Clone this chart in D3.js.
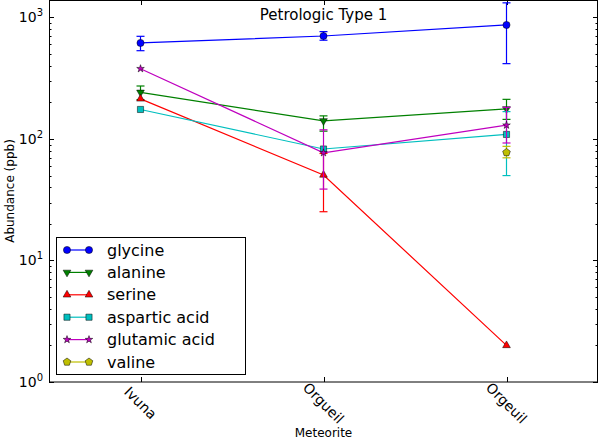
<!DOCTYPE html>
<html>
<head>
<meta charset="utf-8">
<script src="https://cdn.jsdelivr.net/npm/d3@7"></script>
<style>
  body { margin: 0; background: #fff; }
  text { font-family: "DejaVu Sans", sans-serif; }
</style>
</head>
<body>
<div id="chart"></div>
<script>
const meteorites = ['Ivuna', 'Orgueil', 'Orgeuil'];
const seriesNames = ['glycine', 'alanine', 'serine', 'aspartic acid', 'glutamic acid', 'valine'];
const glycine = [617, 704, 868];
const glycineLo = [533, 650, 417];
const glycineHi = [700, 765, 1320];
const alanine = [242, 141, 177];
const alanineLo = [211, 116, 145];
const alanineHi = [273, 155, 212];
const serine = [214, 50.6, 2];
const serineLo = [null, 25.2, null];
const serineHi = [null, 76, null];
const aspartic = [175, 82.7, 109];
const asparticLo = [null, null, 50];
const asparticHi = [null, null, 168];
const glutamic = [379, 77, 130];
const glutamicLo = [null, 38.7, 92.7];
const glutamicHi = [null, 119, 182];
const valine = [null, null, 77.5];
const valineLo = [null, null, 70];
const valineHi = [null, null, 87];
const yTickExps = [0, 1, 2, 3];

const colors = ['#0000ff', '#008000', '#ff0000', '#00bfbf', '#bf00bf', '#bfbf00'];
const markers = ['circle', 'tridown', 'triup', 'square', 'star', 'pentagon'];
const values = [glycine, alanine, serine, aspartic, glutamic, valine];
const lows = [glycineLo, alanineLo, serineLo, asparticLo, glutamicLo, valineLo];
const highs = [glycineHi, alanineHi, serineHi, asparticHi, glutamicHi, valineHi];

const width = 600, height = 441;
const margin = { top: 0, right: 2, bottom: 59, left: 49 };

const svg = d3.select('#chart').append('svg')
  .attr('width', width).attr('height', height);

const x = d3.scaleLinear().domain([-0.5, 2.5]).range([margin.left, width - margin.right]);
const y = d3.scaleLog().domain([1, 1393]).range([height - margin.bottom, margin.top]);

const x0 = margin.left, x1 = width - margin.right;
const y0 = height - margin.bottom, y1 = margin.top;

// ticks
const tg = svg.append('g').attr('stroke', '#000').attr('stroke-width', 1);
meteorites.forEach((m, i) => {
  const xp = Math.round(x(i)) + 0.5;
  tg.append('line').attr('x1', xp).attr('x2', xp).attr('y1', y0).attr('y2', y0 - 5);
  tg.append('line').attr('x1', xp).attr('x2', xp).attr('y1', y1).attr('y2', y1 + 5);
});
for (let e = 0; e <= 3; e++) {
  for (let k = 1; k <= 9; k++) {
    const v = k * Math.pow(10, e);
    if (v > 1393) continue;
    const yp = Math.round(y(v)) + 0.5;
    const len = k === 1 ? 5 : 2.5;
    tg.append('line').attr('x1', x0).attr('x2', x0 + len).attr('y1', yp).attr('y2', yp);
    tg.append('line').attr('x1', x1).attr('x2', x1 - len).attr('y1', yp).attr('y2', yp);
  }
}

// y tick labels
yTickExps.forEach(e => {
  const t = svg.append('text')
    .attr('x', x0 - 6).attr('y', y(Math.pow(10, e)) + 5)
    .attr('text-anchor', 'end').attr('font-size', 14);
  t.append('tspan').text('10');
  t.append('tspan').attr('dy', -6).attr('font-size', 10).text(e);
});

// x tick labels
meteorites.forEach((m, i) => {
  svg.append('text')
    .attr('transform', `translate(${x(i)},${y0 + 21}) rotate(45)`)
    .attr('text-anchor', 'middle').attr('dy', '0.35em')
    .attr('font-size', 14).text(m);
});

// series
values.forEach((vals, s) => {
  const g = svg.append('g');
  const c = colors[s];
  const pts = vals.map((v, i) => ({ i, v })).filter(d => d.v != null);
  g.append('path')
    .attr('d', d3.line().x(d => x(d.i)).y(d => y(d.v))(pts))
    .attr('fill', 'none').attr('stroke', c).attr('stroke-width', 1.2);
  vals.forEach((v, i) => {
    const lo = lows[s][i], hi = highs[s][i];
    if (lo == null || hi == null) return;
    const xp = x(i);
    g.append('line').attr('x1', xp).attr('x2', xp).attr('y1', y(lo)).attr('y2', y(hi))
      .attr('stroke', c).attr('stroke-width', 1.2);
    [lo, hi].forEach(b => {
      g.append('line').attr('x1', xp - 4).attr('x2', xp + 4).attr('y1', y(b)).attr('y2', y(b))
        .attr('stroke', c).attr('stroke-width', 1.2);
    });
  });
  pts.forEach(d => drawMarker(g, markers[s], x(d.i), y(d.v), c));
});

function drawMarker(g, type, cx, cy, c) {
  const sym = {
    circle: [d3.symbolCircle, 40, 0],
    tridown: [d3.symbolTriangle, 26, 180],
    triup: [d3.symbolTriangle, 26, 0],
    square: [d3.symbolSquare, 38, 0],
    star: [d3.symbolStar, 18, 0],
    pentagon: null
  }[type];
  let p;
  if (sym) {
    p = g.append('path').attr('d', d3.symbol().type(sym[0]).size(sym[1])())
      .attr('transform', `translate(${cx},${cy}) rotate(${sym[2]})`);
  } else {
    const r = 4;
    const pp = d3.range(5).map(k => {
      const a = -Math.PI / 2 + k * 2 * Math.PI / 5;
      return [cx + r * Math.cos(a), cy + r * Math.sin(a)];
    });
    p = g.append('polygon').attr('points', pp.map(q => q.join(',')).join(' '));
  }
  p.attr('fill', c).attr('stroke', '#000').attr('stroke-width', 0.5);
}

// frame
svg.append('rect').attr('x', x0 + 0.5).attr('y', y1 + 0.5)
  .attr('width', x1 - x0 - 1).attr('height', y0 - y1 - 0.5)
  .attr('fill', 'none').attr('stroke', '#000').attr('stroke-width', 1);

// title and labels
svg.append('text').attr('x', (x0 + x1) / 2).attr('y', 20)
  .attr('text-anchor', 'middle').attr('font-size', 15).text('Petrologic Type 1');
svg.append('text').attr('x', (x0 + x1) / 2).attr('y', 437)
  .attr('text-anchor', 'middle').attr('font-size', 12).text('Meteorite');
svg.append('text').attr('transform', `translate(14,${(y0 + y1) / 2}) rotate(-90)`)
  .attr('text-anchor', 'middle').attr('font-size', 12).text('Abundance (ppb)');

// legend
const lg = svg.append('g');
lg.append('rect').attr('x', 56.5).attr('y', 237.5).attr('width', 189).attr('height', 137)
  .attr('fill', '#fff').attr('stroke', '#000').attr('stroke-width', 1);
seriesNames.forEach((n, s) => {
  const ly = 250 + s * 22.4;
  lg.append('line').attr('x1', 67).attr('x2', 89).attr('y1', ly).attr('y2', ly)
    .attr('stroke', colors[s]).attr('stroke-width', 1.2);
  drawMarker(lg, markers[s], 67, ly, colors[s]);
  drawMarker(lg, markers[s], 89, ly, colors[s]);
  lg.append('text').attr('x', 107).attr('y', ly).attr('dy', '0.35em')
    .attr('font-size', 16).text(n);
});
</script>
</body>
</html>
